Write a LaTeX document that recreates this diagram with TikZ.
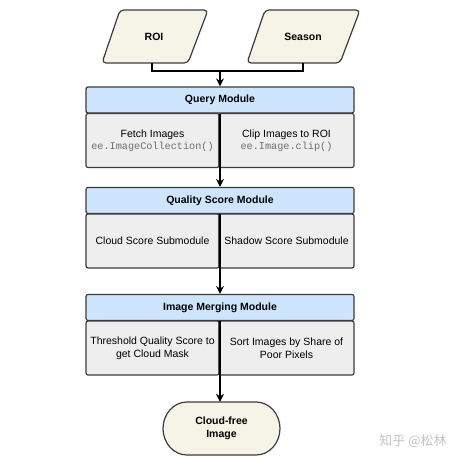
\documentclass[tikz,border=0pt]{standalone}
\usepackage{fontspec}
\setmainfont{Liberation Sans}
\setmonofont{Liberation Mono}
\newfontfamily\cjk{Noto Sans CJK SC}
\usetikzlibrary{arrows.meta}
\definecolor{inbeige}{HTML}{F6F3E7}
\definecolor{hdrblue}{HTML}{CDE5FD}
\definecolor{subgray}{HTML}{EEEEEE}
\definecolor{edgegray}{HTML}{3C3C3C}
\definecolor{codegray}{HTML}{6E6E6E}
\definecolor{wmgray}{HTML}{C4C4C4}
\begin{document}
\begin{tikzpicture}[x=1pt,y=-1pt,
  every node/.style={font=\fontsize{10.5}{13}\selectfont},
  hdr/.style={draw=edgegray, line width=1.2pt, fill=hdrblue, rounded corners=2pt,
    minimum width=268pt, minimum height=26pt, inner sep=0pt,
    font=\fontsize{10.5}{13}\selectfont\bfseries},
  sub/.style={draw=edgegray, line width=1.2pt, fill=subgray, rounded corners=2pt,
    minimum height=54pt, inner sep=0pt, align=center},
  para/.style={draw=edgegray, line width=1.2pt, fill=inbeige, rounded corners=4pt},
  lbl/.style={font=\fontsize{10.5}{13}\selectfont\bfseries, align=center},
  conn/.style={draw=black, line width=1.6pt},
  arr/.style={conn, -{Stealth[length=8pt,width=8pt]}},
  term/.style={minimum width=117pt, minimum height=53pt, inner sep=0pt, align=center,
    font=\fontsize{10.5}{12.5}\selectfont\bfseries}
]
\fill[white] (0,0) rectangle (461,462);
\useasboundingbox (0,0) rectangle (461,462);

% inputs
\draw[para] (102,63) -- (120,10) -- (208,10) -- (188,63) -- cycle;
\node[lbl] (roi) at (154,37) {ROI};
\draw[para] (247,63) -- (265,10) -- (360,10) -- (340,63) -- cycle;
\node[lbl] (season) at (303,37) {Season};
\coordinate (roib) at (152,63);
\coordinate (seab) at (303,63);
\coordinate (join) at (220,71);

% query module
\node[hdr] (qm) at (220,100) {Query Module};
\node[sub, minimum width=133pt] (fetch) at (152.5,140.5)
  {Fetch Images\\[-1pt]{\ttfamily\fontsize{10.2}{13}\selectfont\color{codegray}ee.ImageCollection()}};
\node[sub, minimum width=135pt] (clip) at (286.5,140.5)
  {Clip Images to ROI\\[-1pt]{\ttfamily\fontsize{10.2}{13}\selectfont\color{codegray}ee.Image.clip()}};

% quality score module
\node[hdr] (qs) at (220,200.5) {Quality Score Module};
\node[sub, minimum width=133pt] (cloud) at (152.5,241) {Cloud Score Submodule};
\node[sub, minimum width=135pt] (shadow) at (286.5,241) {Shadow Score Submodule};

% image merging module
\node[hdr] (im) at (220,307.5) {Image Merging Module};
\node[sub, minimum width=133pt] (thr) at (152.5,348) {Threshold Quality Score to\\get Cloud Mask};
\node[sub, minimum width=135pt] (sort) at (286.5,348) {Sort Images by Share of\\Poor Pixels};

% output terminal (elliptic ends)
\draw[draw=edgegray, line width=1.2pt, fill=inbeige]
  (187,402) -- (256,402) arc[start angle=-90, end angle=90, x radius=24, y radius=26.5]
  -- (187,455) arc[start angle=90, end angle=270, x radius=24, y radius=26.5] -- cycle;
\node[term] (out) at (221.5,428.5) {Cloud-free\\Image};

% connectors
\draw[conn] (roib) |- (join) -| (seab);
\draw[arr] (join) -- (qm.north);
\draw[arr] (qm.south) -- (qs.north);
\draw[arr] (qs.south) -- (im.north);
\draw[arr] (im.south) -- (out.north -| im.south);

% watermark
\node[text=wmgray, font=\cjk\fontsize{13}{14}\selectfont] (wm) at (413,441) {知乎 @松林};
\end{tikzpicture}
\end{document}
